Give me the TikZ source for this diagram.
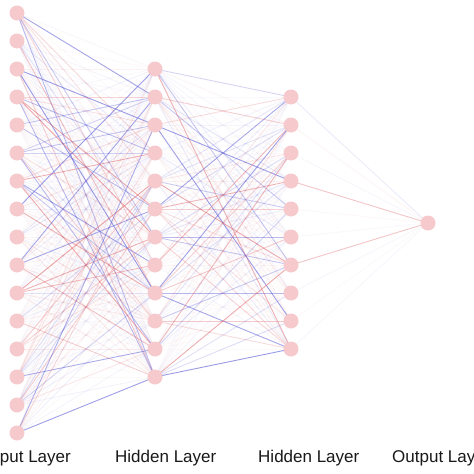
\documentclass[tikz,border=0pt]{standalone}
\usepackage{fontspec}
\setmainfont{Liberation Sans}
\definecolor{nodepink}{RGB}{246,202,204}
\definecolor{edge0}{RGB}{95,95,215}
\definecolor{edge1}{RGB}{225,110,115}
\pgfdeclarelayer{background}
\pgfsetlayers{background,main}
\begin{document}
\begin{tikzpicture}[x=1pt,y=-1pt,
  neuron/.style={circle,fill=nodepink,minimum size=15pt,inner sep=0pt},
  lbl/.style={font=\fontsize{17}{20}\selectfont,text=black!90,inner sep=0pt},
  link/.style={line width=0.9pt}]
\useasboundingbox (0,0) rectangle (474,474);
\foreach \k in {1,...,16} \node[neuron] (i\k) at (17,{13+28*(\k-1)}) {};
\foreach \k in {1,...,12} \node[neuron] (a\k) at (155,{69+28*(\k-1)}) {};
\foreach \k in {1,...,10} \node[neuron] (b\k) at (291,{97+28*(\k-1)}) {};
\node[neuron] (o) at (428,223) {};
\node[lbl,anchor=base east] (l1) at (71,462) {Input Layer};
\node[lbl,anchor=base west] (l2) at (115,462) {Hidden Layer};
\node[lbl,anchor=base west] (l3) at (258,462) {Hidden Layer};
\node[lbl,anchor=base west] (l4) at (392,462) {Output Layer};
\begin{pgfonlayer}{background}
\fill[white] (0,0) rectangle (474,474);
\pgfmathsetseed{42}
\foreach \p in {1,...,16}{\foreach \q in {1,...,12}{
  \pgfmathtruncatemacro\c{rnd<0.5?0:1}
  \pgfmathsetmacro\o{0.04+0.6*pow(rnd,4)}
  \draw[link,edge\c,opacity=\o] (i\p.center) -- (a\q.center);
}}
\foreach \p in {1,...,12}{\foreach \q in {1,...,10}{
  \pgfmathtruncatemacro\c{rnd<0.5?0:1}
  \pgfmathsetmacro\o{0.04+0.6*pow(rnd,4)}
  \draw[link,edge\c,opacity=\o] (a\p.center) -- (b\q.center);
}}
\foreach \p/\c/\o in {1/0/0.12,2/1/0.07,3/0/0.05,4/1/0.4,5/1/0.05,6/0/0.04,7/1/0.4,8/0/0.05,9/1/0.04,10/0/0.05}
  \draw[link,edge\c,opacity=\o] (b\p.center) -- (o.center);
\end{pgfonlayer}
\end{tikzpicture}
\end{document}
